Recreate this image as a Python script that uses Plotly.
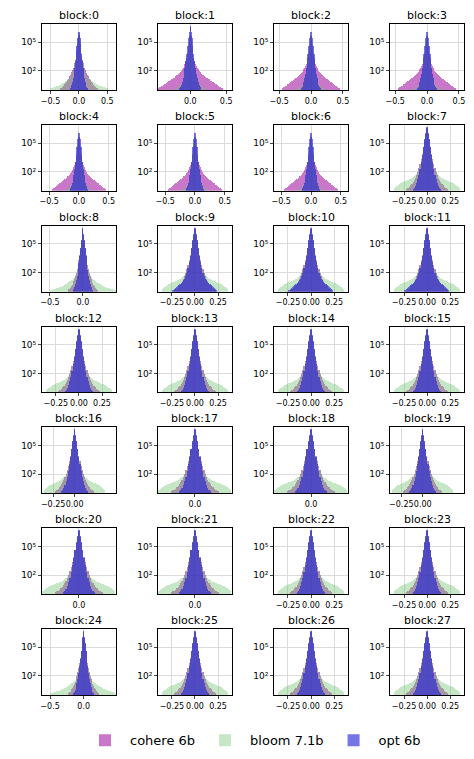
import plotly.graph_objects as go
from plotly.subplots import make_subplots

BIN = 0.0125
# log10 counts per |x| bin (bin width 0.0125), centre outward
cohere_wide = [6.6, 5.6, 4.6, 3.8, 3.3, 3.0, 2.7, 2.5, 2.3, 2.15, 2.0, 1.9, 1.8, 1.7, 1.6, 1.55,
               1.45, 1.4, 1.3, 1.25, 1.15, 1.1, 1.0, 0.95, 0.9, 0.85, 0.8, 0.7, 0.65, 0.6,
               0.5, 0.45, 0.4, 0.35, 0.3, 0.25, 0.2]
cohere_mid = [6.6, 5.7, 4.8, 4.1, 3.5, 3.1, 2.8, 2.5, 2.3, 2.1, 1.9, 1.75, 1.6, 1.45, 1.3,
              1.15, 1.0, 0.9, 0.8, 0.7, 0.6, 0.5, 0.4, 0.35, 0.3, 0.25, 0.2]
cohere_narrow = [6.6, 6.0, 5.3, 4.6, 3.9, 3.3, 2.8, 2.4, 2.0, 1.7, 1.4, 1.15, 0.9, 0.75, 0.6,
                 0.45, 0.35, 0.3, 0.2]
bloom_wide = [6.6, 6.0, 5.4, 4.6, 3.9, 3.2, 2.7, 2.3, 2.0, 1.8, 1.65, 1.55, 1.45, 1.35, 1.3,
              1.2, 1.15, 1.1, 1.05, 1.0, 0.95, 0.9, 0.85, 0.8, 0.7, 0.6, 0.5, 0.4, 0.3]
bloom_far = [6.6, 6.0, 5.4, 4.6, 3.9, 3.2, 2.7, 2.3, 2.0, 1.8, 1.6, 1.5, 1.4, 1.3, 1.2,
             1.15, 1.1, 1.0, 0.95, 0.9, 0.85, 0.8, 0.75, 0.7, 0.65, 0.6, 0.55, 0.5, 0.5,
             0.45, 0.45, 0.4, 0.4, 0.35, 0.35, 0.3, 0.3, 0.25, 0.25, 0.2, 0.2]
bloom_low = [6.4, 5.6, 4.8, 4.0, 3.3, 2.6, 2.0, 1.5, 1.1, 0.8, 0.6, 0.5, 0.4, 0.35, 0.3, 0.3,
             0.25, 0.2]
opt_narrow = [6.7, 6.1, 5.4, 4.6, 3.8, 3.0, 2.3, 1.7, 1.2, 0.8, 0.5, 0.3, 0.2]
opt_tail = [6.7, 6.1, 5.4, 4.6, 3.8, 3.1, 2.5, 2.0, 1.7, 1.4, 1.2, 1.05, 0.9, 0.8, 0.7,
            0.6, 0.5, 0.4, 0.3, 0.2]

profiles = {"cw": cohere_wide, "cm": cohere_mid, "cn": cohere_narrow,
            "bw": bloom_wide, "bf": bloom_far, "bl": bloom_low,
            "on": opt_narrow, "ot": opt_tail}

cohere_by_block = ["cm", "cw", "cw", "cw", "cw", "cw", "cw"] + ["cn"] * 21
bloom_by_block = ["bf", "bl", "bl", "bl", "bl", "bl", "bl", "bw", "bf"] + ["bw"] * 15 + ["bf", "bw", "bw", "bw"]
opt_by_block = ["on"] * 9 + ["ot", "ot", "ot"] + ["on"] * 16

rb = [-0.4, 0.4]
x_ranges = ([[-0.65, 0.65], [-0.45, 0.58], [-0.58, 0.58], [-0.58, 0.58],
             [-0.62, 0.62], [-0.62, 0.62], [-0.62, 0.62], rb,
             [-0.62, 0.5], rb, rb, rb]
            + [rb] * 4
            + [[-0.38, 0.48], [-0.36, 0.36], [-0.36, 0.36], [-0.38, 0.48],
               [-0.36, 0.36], [-0.36, 0.36], [-0.4, 0.4], rb,
               [-0.62, 0.48], rb, rb, rb])
ticks_a = [-0.5, 0.0, 0.5]
ticks_b = [-0.25, 0.0, 0.25]
ticks_c = [-0.5, 0.0]
ticks_d = [0.0]
x_ticks = [ticks_a, [0.0, 0.5], ticks_a, ticks_a, ticks_a, ticks_a, ticks_a, ticks_b,
           ticks_c, ticks_b, ticks_b, ticks_b, ticks_b, ticks_b, ticks_b, ticks_b,
           [-0.25, 0.0], ticks_d, ticks_d, [-0.25, 0.0],
           ticks_d, ticks_d, ticks_b, ticks_b,
           ticks_c, ticks_b, ticks_b, ticks_b]

series = [("cohere 6b", cohere_by_block, "rgba(165,30,165,0.6)"),
          ("bloom 7.1b", bloom_by_block, "rgba(110,195,110,0.4)"),
          ("opt 6b", opt_by_block, "rgba(25,25,215,0.6)")]

fig = make_subplots(rows=7, cols=4, subplot_titles=[f"block:{i}" for i in range(28)],
                    horizontal_spacing=0.1, vertical_spacing=0.052)

for b in range(28):
    r, c = b // 4 + 1, b % 4 + 1
    for si, (name, mapping, color) in enumerate(series):
        prof = profiles[mapping[b]]
        xs, ys = [], []
        for k, v in enumerate(prof):
            for sgn in ([1] if k == 0 else [1, -1]):
                xs.append(sgn * k * BIN)
                ys.append(10 ** v)
        fig.add_trace(go.Bar(x=xs, y=ys, width=BIN, marker=dict(color=color, line_width=0),
                             name=name, legendgroup=name, showlegend=(b == 0)), row=r, col=c)
    two_dec = x_ticks[b][0] == -0.25
    ticktext = [(("%.2f" if two_dec else "%.1f") % t).replace("-", "−") for t in x_ticks[b]]
    fig.update_xaxes(range=x_ranges[b], tickvals=x_ticks[b], ticktext=ticktext, row=r, col=c)
    fig.update_yaxes(type="log", range=[0, 6.9], tickvals=[100, 100000],
                     ticktext=["10²", "10⁵"], row=r, col=c)

fig.update_xaxes(showgrid=True, gridcolor="rgba(215,215,215,0.9)", showline=True, linecolor="black",
                 mirror=True, ticks="outside", ticklen=3, tickfont=dict(size=8), tickangle=0,
                 zeroline=False, layer="above traces")
fig.update_yaxes(showgrid=True, gridcolor="rgba(215,215,215,0.9)", showline=True, linecolor="black",
                 mirror=True, ticks="outside", ticklen=3, tickfont=dict(size=9), zeroline=False,
                 layer="above traces")
fig.update_annotations(font=dict(size=11, color="black"))
fig.update_layout(width=474, height=759, barmode="overlay", bargap=0,
                  margin=dict(l=34, r=18, t=16, b=50), plot_bgcolor="white", paper_bgcolor="white",
                  font=dict(family="DejaVu Sans", color="black"),
                  legend=dict(orientation="h", x=0.5, xanchor="center", y=-0.045, yanchor="top",
                              font=dict(size=13), itemwidth=40))
fig.write_html("out.html")
